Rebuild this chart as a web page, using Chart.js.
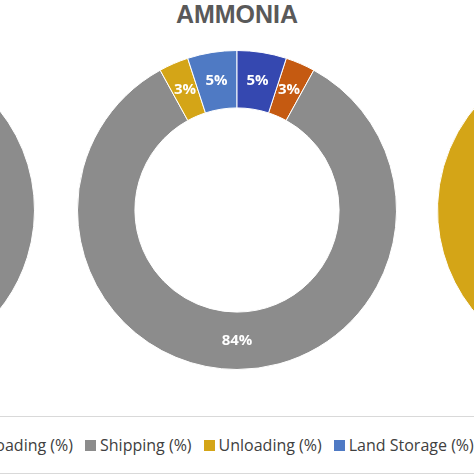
<!DOCTYPE html>
<html><head><meta charset="utf-8">
<script src="https://cdn.jsdelivr.net/npm/chart.js@4"></script>
<style>
body{margin:0;width:474px;height:474px;overflow:hidden;background:#fff;font-family:Calibri,"Liberation Sans",Arial,sans-serif;position:relative}
#title{position:absolute;top:0;left:0;width:474px;text-align:center;font:bold 25px "Liberation Sans",Arial,sans-serif;color:#595959}
.c{position:absolute;top:50px;width:320px;height:320px}
#legend{position:absolute;left:-40px;top:416px;width:700px;height:56px;border-top:1px solid #d9d9d9;border-bottom:1px solid #d9d9d9;white-space:nowrap;font:16px "Open Sans",sans-serif;color:#404040;line-height:56px}
#legend span.sw{display:inline-block;width:11px;height:11px;margin:0 4px 0 12px}
</style></head><body>
<div id="title">AMMONIA</div>
<div class="c" style="left:-285px"><canvas id="left"></canvas></div>
<div class="c" style="left:77px"><canvas id="main"></canvas></div>
<div class="c" style="left:437px"><canvas id="right"></canvas></div>
<div id="legend"></div>
<script>
// categories and values
const labels = ['Loading (%)','Shipping (%)','Unloading (%)','Land Storage (%)','Sea Storage (%)'];
const colors = ['#c55a11','#8c8c8c','#d4a517','#4f7ac4','#3548b0'];
const ammonia = [3, 84, 3, 5, 5];
const leftVals = [2, 90, 2, 3, 3];
const rightVals = [3, 3, 80, 7, 7];

const labelPlugin = {
  id:'lbl',
  afterDatasetsDraw(chart){
    const ctx = chart.ctx;
    const ds = chart.data.datasets[0];
    chart.getDatasetMeta(0).data.forEach((arc,i)=>{
      const p = arc.tooltipPosition();
      ctx.save();
      ctx.fillStyle = '#fff';
      ctx.font = 'bold 15px "Open Sans", Arial, sans-serif';
      ctx.textAlign = 'center'; ctx.textBaseline = 'middle';
      ctx.fillText(ds.data[i] + '%', p.x, p.y);
      ctx.restore();
    });
  }
};

function donut(id, vals, rot){
  new Chart(document.getElementById(id), {
    type:'doughnut',
    data:{ labels, datasets:[{ data: vals, backgroundColor: colors, borderColor:'#fff', borderWidth:1 }] },
    options:{ responsive:true, maintainAspectRatio:false, animation:false, cutout:'64%', rotation:rot,
      layout:{padding:0},
      plugins:{ legend:{display:false}, tooltip:{enabled:false} } },
    plugins:[labelPlugin]
  });
}
donut('left', leftVals, 10);
donut('main', ammonia, 18);
donut('right', rightVals, 10);

document.getElementById('legend').innerHTML = labels.map((l,i)=>
  `<span class="sw" style="background:${colors[i]}"></span>${l}`).join('');
</script>
</body></html>
